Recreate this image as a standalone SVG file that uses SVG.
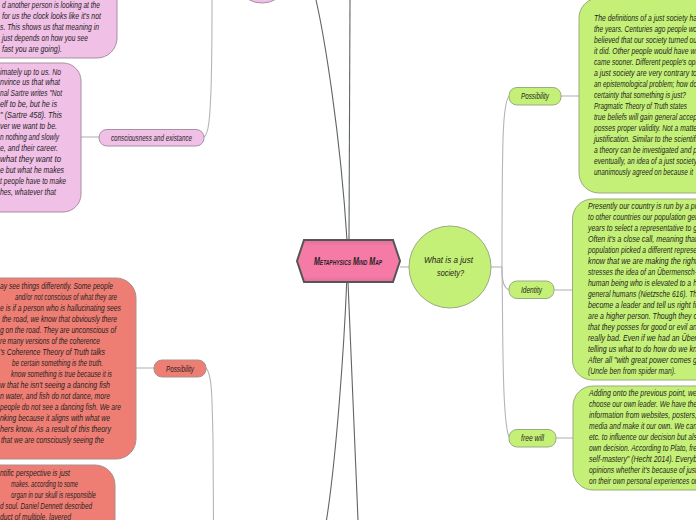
<svg xmlns="http://www.w3.org/2000/svg" width="696" height="520" viewBox="0 0 696 520">
<style>
text{font-family:"Liberation Sans",Arial,sans-serif;font-style:italic;fill:#1e1e1e;font-size:8.6px}
.box{stroke-width:1}
.pk{fill:#f0c0e6;stroke:#a98fa4}
.gr{fill:#c5f077;stroke:#9bab80}
.rd{fill:#ee7e74;stroke:#a88f8c}
.l{fill:none;stroke:#b5b5b5;stroke-width:1.1}
.d{fill:none;stroke:#5f6563;stroke-width:1.1}
</style>
<defs>
<linearGradient id="hex" x1="0" y1="0" x2="0" y2="1">
<stop offset="0" stop-color="#e0709a"/><stop offset="0.14" stop-color="#f57aa6"/><stop offset="0.86" stop-color="#f57aa6"/><stop offset="1" stop-color="#e0709a"/>
</linearGradient>
</defs>
<g id="connectors">
<path class="d" d="M316 0C324 35 340 130 347 240"/>
<path class="d" d="M350 0L349 240"/>
<path class="d" d="M346.700 282C344 350 336 460 326.500 520"/>
<path class="d" d="M348 282L358 520"/>
<path class="l" d="M400 267H409"/>
<path class="l" d="M491 267H502"/>
<path class="l" d="M509 96C503 104 502 130 502 267C502 280 503 287 509 290"/>
<path class="l" d="M502 267C503 330 502 420 509 437"/>
<path class="l" d="M561 96H579"/>
<path class="l" d="M554 290H573"/>
<path class="l" d="M556 438H573"/>
<path class="l" d="M81 137H99"/>
<path class="l" d="M204 137C209 134 210 115 211 90C212 60 212 30 212 0"/>
<path class="l" d="M136 368H154"/>
<path class="l" d="M206 368C212 374 212 395 213 440L213.500 520"/>
</g>
<g id="top-node"><ellipse cx="262" cy="-8" rx="18" ry="11" class="pk box"/></g>
<g id="center">
<polygon points="304,240 393,240 400,261 393,282 304,282 297,261" fill="url(#hex)" stroke="#555" stroke-width="2"/>
<text x="314" y="265" textLength="68" lengthAdjust="spacingAndGlyphs" style="font-variant:small-caps;font-size:10px;font-weight:bold">Metaphysics Mind Map</text>
</g>
<g id="just-society">
<circle cx="450" cy="267" r="41" class="gr box"/>
<text x="424" y="263" textLength="49" lengthAdjust="spacingAndGlyphs" style="font-size:9.500px">What is a just</text>
<text x="437" y="276" textLength="27" lengthAdjust="spacingAndGlyphs" style="font-size:9.500px">society?</text>
</g>
<g id="possibility-right">
<rect x="509" y="87.500" width="52" height="17.500" rx="8" class="gr box"/>
<text x="521" y="99" textLength="28" lengthAdjust="spacingAndGlyphs">Possibility</text>
</g>
<g id="identity">
<rect x="509" y="281" width="45" height="17.500" rx="8" class="gr box"/>
<text x="521" y="293" textLength="21" lengthAdjust="spacingAndGlyphs">Identity</text>
</g>
<g id="free-will">
<rect x="509" y="429.500" width="47" height="17.500" rx="8" class="gr box"/>
<text x="521" y="441" textLength="23" lengthAdjust="spacingAndGlyphs">free will</text>
</g>
<g id="possibility-text">
<rect x="579" y="-2" width="170" height="195" rx="20" class="gr box"/>
<text x="594" y="21" textLength="103" lengthAdjust="spacingAndGlyphs">The definitions of a just society ha</text>
<text x="594" y="32" textLength="103" lengthAdjust="spacingAndGlyphs">the years. Centuries ago people wo</text>
<text x="594" y="43" textLength="103" lengthAdjust="spacingAndGlyphs">believed that our society turned ou</text>
<text x="594" y="54" textLength="103" lengthAdjust="spacingAndGlyphs">it did. Other people would have wi</text>
<text x="594" y="65" textLength="103" lengthAdjust="spacingAndGlyphs">came sooner. Different people's opi</text>
<text x="594" y="76" textLength="103" lengthAdjust="spacingAndGlyphs">a just society are very contrary to</text>
<text x="594" y="87" textLength="103" lengthAdjust="spacingAndGlyphs">an epistemological problem; how do</text>
<text x="594" y="98" textLength="92" lengthAdjust="spacingAndGlyphs">certainty that something is just?</text>
<text x="594" y="109" textLength="93" lengthAdjust="spacingAndGlyphs">Pragmatic Theory of Truth states</text>
<text x="594" y="120" textLength="103" lengthAdjust="spacingAndGlyphs">true beliefs will gain general accep</text>
<text x="594" y="131" textLength="103" lengthAdjust="spacingAndGlyphs">posses proper validity. Not a matte</text>
<text x="594" y="142" textLength="103" lengthAdjust="spacingAndGlyphs">justification. Similar to the scientifi</text>
<text x="594" y="153" textLength="103" lengthAdjust="spacingAndGlyphs">a theory can be investigated and p</text>
<text x="594" y="164" textLength="103" lengthAdjust="spacingAndGlyphs">eventually, an idea of a just society</text>
<text x="594" y="175" textLength="99" lengthAdjust="spacingAndGlyphs">unanimously agreed on because it</text>
</g>
<g id="identity-text">
<rect x="572.500" y="199" width="170" height="181" rx="20" class="gr box"/>
<text x="588" y="209" textLength="109" lengthAdjust="spacingAndGlyphs">Presently our country is run by a pr</text>
<text x="588" y="220" textLength="109" lengthAdjust="spacingAndGlyphs">to other countries our population get</text>
<text x="588" y="231" textLength="109" lengthAdjust="spacingAndGlyphs">years to select a representative to g</text>
<text x="588" y="242" textLength="109" lengthAdjust="spacingAndGlyphs">Often it's a close call, meaning that</text>
<text x="588" y="253" textLength="109" lengthAdjust="spacingAndGlyphs">population picked a different represe</text>
<text x="588" y="264" textLength="109" lengthAdjust="spacingAndGlyphs">know that we are making the right</text>
<text x="588" y="275" textLength="109" lengthAdjust="spacingAndGlyphs">stresses the idea of an Übermensch-</text>
<text x="588" y="286" textLength="109" lengthAdjust="spacingAndGlyphs">human being who is elevated to a h</text>
<text x="588" y="297" textLength="109" lengthAdjust="spacingAndGlyphs">general humans (Nietzsche 616). Th</text>
<text x="588" y="308" textLength="109" lengthAdjust="spacingAndGlyphs">become a leader and tell us right fr</text>
<text x="588" y="319" textLength="109" lengthAdjust="spacingAndGlyphs">are a higher person. Though they c</text>
<text x="588" y="330" textLength="109" lengthAdjust="spacingAndGlyphs">that they posses for good or evil an</text>
<text x="588" y="341" textLength="109" lengthAdjust="spacingAndGlyphs">really bad. Even if we had an Über</text>
<text x="588" y="352" textLength="109" lengthAdjust="spacingAndGlyphs">telling us what to do how do we kn</text>
<text x="588" y="363" textLength="109" lengthAdjust="spacingAndGlyphs">After all "with great power comes g</text>
<text x="588" y="374" textLength="88" lengthAdjust="spacingAndGlyphs">(Uncle ben from spider man).</text>
</g>
<g id="free-will-text">
<rect x="573" y="386" width="170" height="104" rx="20" class="gr box"/>
<text x="589" y="396" textLength="108" lengthAdjust="spacingAndGlyphs">Adding onto the previous point, we</text>
<text x="589" y="407" textLength="108" lengthAdjust="spacingAndGlyphs">choose our own leader. We have the</text>
<text x="589" y="418" textLength="108" lengthAdjust="spacingAndGlyphs">information from websites, posters,</text>
<text x="589" y="429" textLength="108" lengthAdjust="spacingAndGlyphs">media and make it our own. We can</text>
<text x="589" y="440" textLength="108" lengthAdjust="spacingAndGlyphs">etc. to influence our decision but als</text>
<text x="589" y="451" textLength="108" lengthAdjust="spacingAndGlyphs">own decision. According to Plato, fre</text>
<text x="589" y="462" textLength="108" lengthAdjust="spacingAndGlyphs">self-mastery" (Hecht 2014). Everyb</text>
<text x="589" y="473" textLength="108" lengthAdjust="spacingAndGlyphs">opinions whether it's because of just</text>
<text x="589" y="484" textLength="108" lengthAdjust="spacingAndGlyphs">on their own personal experiences or</text>
</g>
<g id="existence-text-top">
<rect x="-80" y="-60" width="197" height="118" rx="20" class="pk box"/>
<text x="2" y="8" textLength="98" lengthAdjust="spacingAndGlyphs">d another person is looking at the</text>
<text x="2" y="19" textLength="99" lengthAdjust="spacingAndGlyphs">for us the clock looks like it's not</text>
<text x="0" y="30" textLength="99" lengthAdjust="spacingAndGlyphs">s. This shows us that meaning in</text>
<text x="2" y="41" textLength="86" lengthAdjust="spacingAndGlyphs">just depends on how you see</text>
<text x="2" y="52" textLength="60" lengthAdjust="spacingAndGlyphs">fast you are going).</text>
</g>
<g id="existence-text">
<rect x="-80" y="63" width="161" height="149" rx="18" class="pk box"/>
<text x="0" y="74.500" textLength="61" lengthAdjust="spacingAndGlyphs">imately up to us. No</text>
<text x="0" y="85" textLength="60" lengthAdjust="spacingAndGlyphs">nvince us that what</text>
<text x="0" y="96" textLength="62" lengthAdjust="spacingAndGlyphs">nal Sartre writes "Not</text>
<text x="0" y="107" textLength="57" lengthAdjust="spacingAndGlyphs">elf to be, but he is</text>
<text x="0" y="118" textLength="62" lengthAdjust="spacingAndGlyphs">" (Sartre 458). This</text>
<text x="0" y="129" textLength="57" lengthAdjust="spacingAndGlyphs">ver we want to be.</text>
<text x="0" y="140" textLength="59" lengthAdjust="spacingAndGlyphs">n nothing and slowly</text>
<text x="0" y="151" textLength="58" lengthAdjust="spacingAndGlyphs">e, and their career.</text>
<text x="0" y="162" textLength="61" lengthAdjust="spacingAndGlyphs">what they want to</text>
<text x="0" y="173" textLength="64" lengthAdjust="spacingAndGlyphs">e but what he makes</text>
<text x="0" y="184" textLength="66" lengthAdjust="spacingAndGlyphs">t people have to make</text>
<text x="0" y="195" textLength="56" lengthAdjust="spacingAndGlyphs">hes, whatever that</text>
</g>
<g id="consciousness">
<rect x="99" y="129.500" width="105" height="16.500" rx="8" class="pk box"/>
<text x="111" y="141" textLength="81" lengthAdjust="spacingAndGlyphs">consciousness and existance</text>
</g>
<g id="possibility-left">
<rect x="154" y="360" width="52" height="17" rx="8" class="rd box"/>
<text x="166" y="371.500" textLength="28" lengthAdjust="spacingAndGlyphs">Possibility</text>
</g>
<g id="possibility-left-text">
<rect x="-80" y="278" width="216" height="181" rx="20" class="rd box"/>
<text x="0" y="288.500" textLength="113" lengthAdjust="spacingAndGlyphs">ay see things differently. Some people</text>
<text x="15" y="299.500" textLength="102" lengthAdjust="spacingAndGlyphs">and/or not conscious of what they are</text>
<text x="0" y="310.500" textLength="121" lengthAdjust="spacingAndGlyphs">e is if a person who is hallucinating sees</text>
<text x="2" y="321.500" textLength="115" lengthAdjust="spacingAndGlyphs">the road, we know that obviously there</text>
<text x="0" y="332.500" textLength="116" lengthAdjust="spacingAndGlyphs">g on the road. They are unconscious of</text>
<text x="0" y="343.500" textLength="100" lengthAdjust="spacingAndGlyphs">re many versions of the coherence</text>
<text x="0" y="354.500" textLength="105" lengthAdjust="spacingAndGlyphs">'s Coherence Theory of Truth talks</text>
<text x="12" y="365.500" textLength="91" lengthAdjust="spacingAndGlyphs">be certain something is the truth.</text>
<text x="11" y="376.500" textLength="101" lengthAdjust="spacingAndGlyphs">know something is true because it is</text>
<text x="0" y="387.500" textLength="110" lengthAdjust="spacingAndGlyphs">w that he isn't seeing a dancing fish</text>
<text x="0" y="398.500" textLength="110" lengthAdjust="spacingAndGlyphs">n water, and fish do not dance, more</text>
<text x="0" y="409.500" textLength="121" lengthAdjust="spacingAndGlyphs">people do not see a dancing fish. We are</text>
<text x="0" y="420.500" textLength="110" lengthAdjust="spacingAndGlyphs">nking because it aligns with what we</text>
<text x="0" y="431.500" textLength="111" lengthAdjust="spacingAndGlyphs">hers know. As a result of this theory</text>
<text x="1" y="442.500" textLength="103" lengthAdjust="spacingAndGlyphs">that we are consciously seeing the</text>
</g>
<g id="scientific-text">
<rect x="-80" y="465" width="195" height="120" rx="20" class="rd box"/>
<text x="0" y="475.500" textLength="70" lengthAdjust="spacingAndGlyphs">ntific perspective is just</text>
<text x="11" y="486.500" textLength="67" lengthAdjust="spacingAndGlyphs">makes. according to some</text>
<text x="11" y="497.500" textLength="85" lengthAdjust="spacingAndGlyphs">organ in our skull is responsible</text>
<text x="0" y="508.500" textLength="92" lengthAdjust="spacingAndGlyphs">d soul. Daniel Dennett described</text>
<text x="0" y="519.500" textLength="71" lengthAdjust="spacingAndGlyphs">duct of multiple, layered</text>
</g>
</svg>
